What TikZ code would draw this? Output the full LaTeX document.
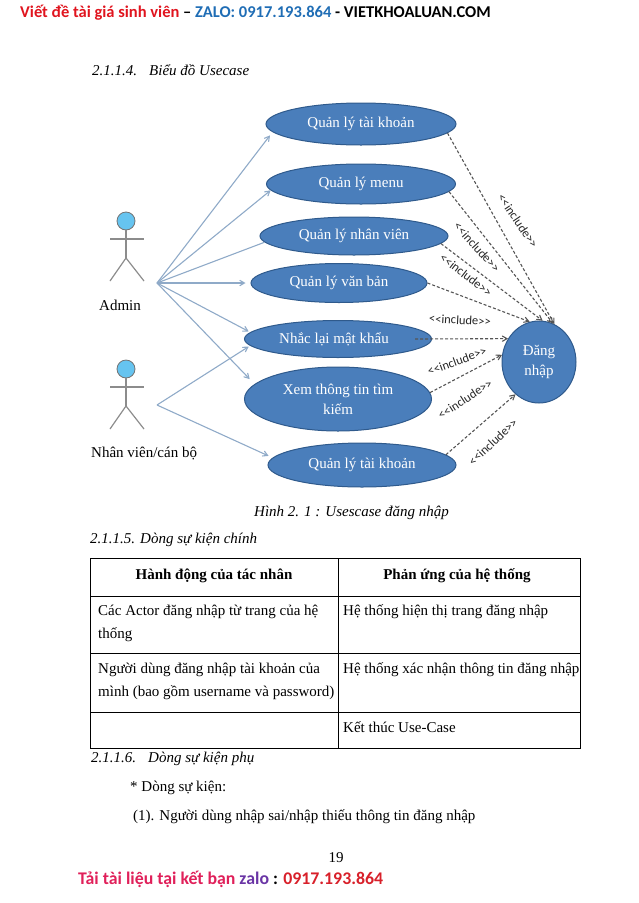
\documentclass[tikz,border=0pt]{standalone}
\usepackage{fontspec}
\setmainfont{Liberation Serif}
\newfontfamily\calibfont{Carlito}
\usetikzlibrary{arrows}
\usetikzlibrary{shapes.geometric}
\definecolor{ucfill}{HTML}{4A7EBB}
\definecolor{ucedge}{HTML}{2F5A8C}
\definecolor{assoc}{HTML}{8FAAC8}
\definecolor{incl}{HTML}{555555}
\definecolor{headfill}{HTML}{66C4F0}
\definecolor{headred}{HTML}{E0141E}
\definecolor{headblue}{HTML}{1F6DB5}
\definecolor{footpink}{HTML}{E0205A}
\definecolor{footviolet}{HTML}{6A35A5}
\definecolor{footred}{HTML}{D8202A}
\tikzset{
  usecase/.style={ellipse,draw=ucedge,fill=ucfill,line width=1pt,inner sep=0pt,text=white,font=\fontsize{15}{20}\selectfont,align=center},
  assocline/.style={assoc,line width=1.1pt,->,>=angle 60},
  inclline/.style={incl,line width=1.1pt,densely dashed,->,>=angle 60},
  incltext/.style={font=\calibfont\fontsize{12.5}{14}\selectfont,text=black!85,inner sep=0pt},
  stick/.style={black!45,line width=1.2pt},
  actorhead/.style={circle,draw=black!55,fill=headfill,line width=.8pt,minimum size=18pt,inner sep=0pt},
  bodytext/.style={anchor=base west,inner sep=0pt,font=\fontsize{15}{17}\selectfont},
  bodyital/.style={bodytext,font=\fontsize{15}{17}\selectfont\itshape},
  headcell/.style={inner sep=0pt,font=\fontsize{15}{17}\selectfont\bfseries},
  tblline/.style={black,line width=.9pt}
}
\begin{document}
\begin{tikzpicture}[x=1pt,y=-1pt]
\useasboundingbox (0,0) rectangle (638,903);
% header
\node[anchor=base west,inner sep=0pt,font=\calibfont\bfseries\fontsize{16.5}{18}\selectfont] (header) at (20,17.5) {\textcolor{headred}{Viết đề tài giá sinh viên} – \textcolor{headblue}{ZALO: 0917.193.864} - VIETKHOALUAN.COM};
\node[bodyital] (sec4) at (92,75) {2.1.1.4.\hspace{.8em}Biểu đồ Usecase};
% actors
\node[actorhead] (adminhead) at (126,221) {};
\coordinate (adminhip) at (126,258);
\draw[stick] (adminhead) -- (adminhip);
\draw[stick] (110,239) -- (144,239);
\draw[stick] (110,281) -- (adminhip) -- (144,281);
\node[bodytext] (admin) at (99,310) {Admin};
\node[actorhead] (staffhead) at (126,369) {};
\coordinate (staffhip) at (126,406);
\draw[stick] (staffhead) -- (staffhip);
\draw[stick] (110,387) -- (144,387);
\draw[stick] (110,429) -- (staffhip) -- (144,429);
\node[bodytext] (staff) at (91,457) {Nhân viên/cán bộ};
\coordinate (adminout) at (157,283);
\coordinate (staffout) at (157,405);
% use cases
\node[usecase,minimum width=190pt,minimum height=42pt] (account) at (361,124) {Quản lý tài khoản};
\node[usecase,minimum width=189pt,minimum height=40pt] (menu) at (361,184) {Quản lý menu};
\node[usecase,minimum width=188pt,minimum height=38pt] (employee) at (354,236) {Quản lý nhân viên};
\node[usecase,minimum width=176pt,minimum height=39pt] (document) at (339,283) {Quản lý văn bản};
\node[usecase,minimum width=187pt,minimum height=37pt] (remind) at (338,339) {\hspace*{-8pt}Nhắc lại mật khẩu};
\node[usecase,minimum width=187pt,minimum height=64pt] (search) at (338,399) {Xem thông tin tìm\\kiếm};
\node[usecase,minimum width=188pt,minimum height=44pt] (account2) at (362,465) {Quản lý tài khoản};
\node[usecase,minimum width=74pt,minimum height=82pt] (login) at (539,362) {Đăng\\nhập};
% associations
\draw[assocline] (adminout) -- ([xshift=-10pt]account.188);
\draw[assocline] (adminout) -- (menu.184);
\draw[assoc,line width=1.1pt] (adminout) -- (employee.184);
\draw[assocline] (adminout) -- ([xshift=-5pt]document.west);
\draw[assocline] (adminout) -- ([xshift=-3pt]remind.175);
\draw[assocline] (adminout) -- ([xshift=-14pt]search.165);
\draw[assocline] (staffout) -- ([xshift=-3pt]remind.185);
\draw[assocline] (staffout) -- ([xshift=-7pt]account2.174);
% includes
\draw[inclline] (account.-6) -- (login.68);
\draw[inclline] (menu.-5) -- (login.70);
\draw[inclline] (employee.-5) -- (login.85);
\draw[inclline] (document.east) -- (login.103);
\draw[inclline] ([xshift=-17pt]remind.east) -- (login.143);
\draw[inclline] (search.4) -- (login.169);
\draw[inclline] (account2.7) -- (login.234);
\node[incltext,rotate=-56] (incla) at (518,221) {<<include>>};
\node[incltext,rotate=-48] (inclb) at (477,247) {<<include>>};
\node[incltext,rotate=-38] (inclc) at (466,275) {<<include>>};
\node[incltext,rotate=-3] (incld) at (460,320) {<<include>>};
\node[incltext,rotate=20] (incle) at (457,361) {<<include>>};
\node[incltext,rotate=33] (inclf) at (465,399) {<<include>>};
\node[incltext,rotate=43] (inclg) at (493,442) {<<include>>};
% caption
\node[bodyital] (caption) at (254,516) {Hình 2. 1 : Usescase đăng nhập};
\node[bodyital] (sec5) at (90,543) {2.1.1.5. Dòng sự kiện chính};
% table
\draw[tblline] (90,558) rectangle (580,748);
\draw[tblline] (338,558) -- (338,748);
\draw[tblline] (90,596) -- (580,596);
\draw[tblline] (90,653) -- (580,653);
\draw[tblline] (90,712) -- (580,712);
\node[headcell] (cola) at (214,576) {Hành động của tác nhân};
\node[headcell] (colb) at (457,576) {Phản ứng của hệ thống};
\node[bodytext] (ca) at (98,615) {Các Actor đăng nhập từ trang của hệ};
\node[bodytext] (cb) at (98,638) {thống};
\node[bodytext] (cc) at (343,615) {Hệ thống hiện thị trang đăng nhập};
\node[bodytext] (cd) at (98,673) {Người dùng đăng nhập tài khoản của};
\node[bodytext] (ce) at (98,696) {mình (bao gồm username và password)};
\node[bodytext] (cf) at (343,673) {Hệ thống xác nhận thông tin đăng nhập};
\node[bodytext] (cg) at (343,732) {Kết thúc Use-Case};
% below table
\node[bodyital] (sec6) at (91,762) {2.1.1.6.\hspace{.8em}Dòng sự kiện phụ};
\node[bodytext] (eventa) at (130,791) {* Dòng sự kiện:};
\node[bodytext] (eventb) at (133,820) {(1). Người dùng nhập sai/nhập thiếu thông tin đăng nhập};
\node[bodytext,anchor=base] (pageno) at (336,862) {19};
% footer
\node[anchor=base west,inner sep=0pt,font=\calibfont\bfseries\fontsize{17.8}{21}\selectfont] (footer) at (78,884) {\textcolor{footpink}{Tải tài liệu tại kết bạn} \textcolor{footviolet}{zalo} : \textcolor{footred}{0917.193.864}};
\end{tikzpicture}
\end{document}
